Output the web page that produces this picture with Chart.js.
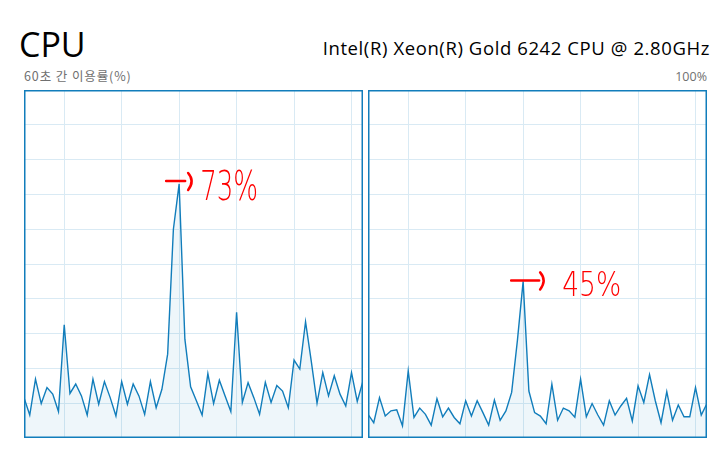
<!DOCTYPE html>
<html>
<head>
<meta charset="utf-8">
<title>CPU</title>
<script src="https://cdn.jsdelivr.net/npm/chart.js"></script>
<style>
	body { margin: 0; width: 727px; height: 456px; background: #fff; position: relative; overflow: hidden;
		font-family: "Open Sans", "Noto Sans", sans-serif; }
	.txt { position: absolute; white-space: nowrap; line-height: 1; }
	#title { left: 19px; top: 27px; font-size: 34px; color: #000; }
	#model { right: 17px; top: 39px; font-size: 18.5px; letter-spacing: 0.6px; color: #000; }
	#sub { left: 24px; top: 70px; font-size: 12.5px; letter-spacing: 0.9px; color: #707070; font-family: "Noto Sans CJK KR", "Open Sans", sans-serif; }
	#max { right: 20px; top: 71px; font-size: 12.5px; color: #707070; }
	.panel { position: absolute; top: 90px; width: 339px; height: 348px; }
</style>
</head>
<body>
	<div class="txt" id="title">CPU</div>
	<div class="txt" id="model">Intel(R) Xeon(R) Gold 6242 CPU @ 2.80GHz</div>
	<div class="txt" id="sub">60초 간 이용률(%)</div>
	<div class="txt" id="max">100%</div>

	<div class="panel" style="left:24px"><canvas id="cpu0" width="339" height="348"></canvas></div>
	<div class="panel" style="left:368px"><canvas id="cpu1" width="339" height="348"></canvas></div>

	<script>
		// utilisation (%) over the last 60 seconds, one value per second
		const cpu0 = [11.6, 6.6, 16.9, 9.9, 14.5, 12.6, 7.6, 32.5, 12.8, 15.5,
			12.1, 6.6, 16.9, 9.7, 16.2, 11.6, 6.3, 16.2, 9.7, 15.5,
			12.1, 6.8, 16.2, 8.7, 14.0, 24.1, 60, 73, 28.4, 14.7,
			10.7, 6.6, 18.5, 9.9, 16.6, 12.1, 7.6, 36.1, 10.2, 15.9,
			11.6, 6.8, 16.0, 10.2, 15.1, 13.5, 8.7, 22.4, 19.8, 33.4,
			22, 10.0, 18.8, 12.1, 17.9, 12.6, 9.2, 18.8, 10.5, 16.4];
		const cpu1 = [6.8, 4.4, 11.6, 6.3, 7.8, 8.1, 3.5, 19.3, 5.9, 8.6,
			6.8, 3.7, 11.3, 6.1, 8.6, 5.9, 4.1, 10.7, 6.3, 10.7,
			7.3, 3.7, 10.9, 5.1, 7.8, 13.1, 28, 45, 13.5, 7.3,
			6.3, 4.1, 15.5, 5.1, 8.6, 7.8, 6.0, 16.9, 6.1, 9.9,
			6.6, 3.7, 10.7, 6.6, 9.2, 11.4, 4.9, 15.0, 10.2, 18.2,
			10.7, 4.4, 13.3, 5.1, 9.5, 6.1, 6.1, 14.5, 6.6, 9.9];
		// seconds at which the vertical grid lines sit (the grid scrolls)
		const gridSeconds = [7, 17, 27, 37, 47, 57];
		const peakIndex = 27;

		const BLUE = 'rgb(17,125,187)';
		const GRID = 'rgb(217,234,244)';

		// red hand-written note next to the peak
		const notePlugin = {
			id: 'note',
			afterDatasetsDraw(chart, args, o) {
				const { ctx, scales: { x, y } } = chart;
				const vals = chart.data.datasets[0].data;
				const px = x.getPixelForValue(o.index);
				const py = y.getPixelForValue(vals[o.index].y);
				ctx.save();
				ctx.strokeStyle = ctx.fillStyle = '#ff0000';
				ctx.lineWidth = 2.5;
				ctx.lineCap = 'round';
				ctx.beginPath();
				ctx.moveTo(px + o.shaft[0], py + o.shaftY);
				ctx.lineTo(px + o.shaft[1], py + o.shaftY);
				ctx.moveTo(px + o.head, py + o.shaftY - 8);
				ctx.quadraticCurveTo(px + o.head + 7, py + o.shaftY, px + o.head, py + o.shaftY + 9);
				ctx.stroke();
				ctx.font = '200 40px "DejaVu Sans"';
				const w = ctx.measureText(o.text).width;
				ctx.translate(px + o.textX, py + o.textY);
				ctx.scale(o.textW / w, o.textH / 29);
				ctx.textBaseline = 'alphabetic';
				ctx.fillText(o.text, 0, 0);
				ctx.restore();
			}
		};

		const frame = {
			id: 'frame',
			afterDraw(chart) {
				const { ctx, chartArea: a } = chart;
				ctx.save();
				ctx.strokeStyle = BLUE;
				ctx.lineWidth = 1.5;
				ctx.strokeRect(a.left + 0.75, a.top + 0.75, a.width - 1.5, a.height - 1.5);
				ctx.restore();
			}
		};

		function makeChart(id, values, note) {
			const ctx = document.getElementById(id).getContext('2d');
			return new Chart(ctx, {
				type: 'line',
				data: {
					datasets: [{
						data: values.map((v, i) => ({ x: i, y: v })),
						borderColor: BLUE,
						borderWidth: 1.4,
						backgroundColor: 'rgba(17,125,187,0.07)',
						fill: 'origin',
						pointRadius: 0,
						tension: 0
					}]
				},
				options: {
					responsive: false,
					animation: false,
					layout: { padding: 0 },
					plugins: { legend: { display: false }, tooltip: { enabled: false }, note: note },
					scales: {
						x: {
							type: 'linear', min: 0, max: 59,
							afterBuildTicks: axis => { axis.ticks = gridSeconds.map(v => ({ value: v })); },
							ticks: { display: false },
							grid: { color: GRID, drawTicks: false },
							border: { display: false }
						},
						y: {
							min: 0, max: 100,
							ticks: { display: false, stepSize: 10 },
							grid: { color: GRID, drawTicks: false },
							border: { display: false }
						}
					}
				},
				plugins: [notePlugin, frame]
			});
		}

		makeChart('cpu0', cpu0, { index: peakIndex, text: '73%', shaft: [-13, 6], shaftY: -3, head: 9, textX: 21, textY: 16, textW: 58, textH: 30 });
		makeChart('cpu1', cpu1, { index: peakIndex, text: '45%', shaft: [-12, 16], shaftY: -1, head: 17, textX: 39, textY: 15, textW: 59, textH: 25 });
	</script>
</body>
</html>
